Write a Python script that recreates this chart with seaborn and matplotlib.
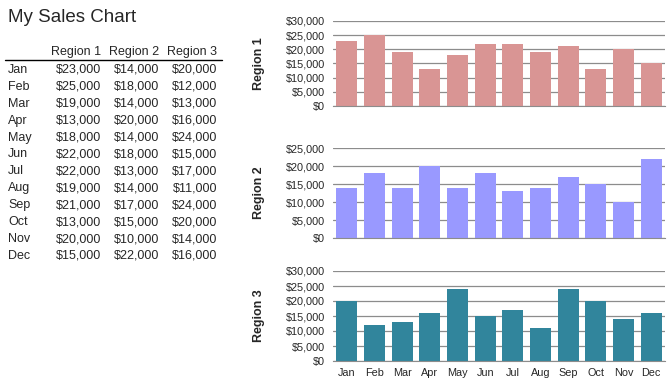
import numpy as np
import pandas as pd
import matplotlib
matplotlib.use("Agg")
import matplotlib.pyplot as plt
import seaborn as sns
from matplotlib.ticker import FuncFormatter

months = ["Jan", "Feb", "Mar", "Apr", "May", "Jun", "Jul", "Aug", "Sep", "Oct", "Nov", "Dec"]
region1 = [23000, 25000, 19000, 13000, 18000, 22000, 22000, 19000, 21000, 13000, 20000, 15000]
region2 = [14000, 18000, 14000, 20000, 14000, 18000, 13000, 14000, 17000, 15000, 10000, 22000]
region3 = [20000, 12000, 13000, 16000, 24000, 15000, 17000, 11000, 24000, 20000, 14000, 16000]
regions = ["Region 1", "Region 2", "Region 3"]
colors = ["#D99594", "#9999FF", "#31859C"]
ymaxes = [30000, 25000, 30000]

sns.set_style("white")
plt.rcParams["font.family"] = ["Liberation Sans", "DejaVu Sans"]

df = pd.DataFrame({"Month": months, "Region 1": region1, "Region 2": region2, "Region 3": region3})

fig = plt.figure(figsize=(6.7, 3.88), dpi=100)

# left side: title and data table
fig.text(8 / 670, 1 - 17 / 388, "My Sales Chart", fontsize=13.5, va="center", ha="left")
col_x = [101, 159, 217]
for name, cx in zip(regions, col_x):
    fig.text(cx / 670, 1 - 52 / 388, name, fontsize=9, ha="right", va="center")
fig.add_artist(plt.Line2D([5 / 670, 222 / 670], [1 - 60 / 388, 1 - 60 / 388], color="black", lw=1))
for i, m in enumerate(months):
    y = 1 - (70 + i * 16.9) / 388
    fig.text(8 / 670, y, m, fontsize=9, ha="left", va="center")
    for name, cx in zip(regions, col_x):
        fig.text(cx / 670, y, f"${df[name][i]:,}", fontsize=9, ha="right", va="center")

# right side: three bar panels
boxes = [(21, 106), (148, 238), (271, 361)]
money = FuncFormatter(lambda v, p: f"${int(v):,}")
for k, (name, col, ymax, (top, bot)) in enumerate(zip(regions, colors, ymaxes, boxes)):
    ax = fig.add_axes([333 / 670, 1 - bot / 388, 332 / 670, (bot - top) / 388])
    sns.barplot(data=df, x="Month", y=name, color=col, width=0.75, saturation=1,
                edgecolor="none", linewidth=0, zorder=3, ax=ax)
    ax.set_ylim(0, ymax)
    ax.set_yticks(np.arange(0, ymax + 1, 5000))
    ax.yaxis.set_major_formatter(money)
    ax.grid(axis="y", color="#8c8c8c", lw=0.9, zorder=0)
    ax.set_axisbelow(True)
    for s in ["top", "right", "left"]:
        ax.spines[s].set_visible(False)
    ax.spines["bottom"].set_color("#8c8c8c")
    ax.spines["bottom"].set_zorder(4)
    ax.tick_params(axis="y", labelsize=7.8, length=0, pad=6)
    ax.tick_params(axis="x", labelsize=7.8, length=0, pad=5)
    ax.set_ylabel(name, fontsize=9, fontweight="bold")
    ax.yaxis.set_label_coords(-0.205, 0.5)
    ax.set_xlabel("")
    ax.set_xlim(-0.5, 11.5)
    if k < 2:
        ax.set_xticklabels([])

fig.savefig("out.png", dpi=100)
